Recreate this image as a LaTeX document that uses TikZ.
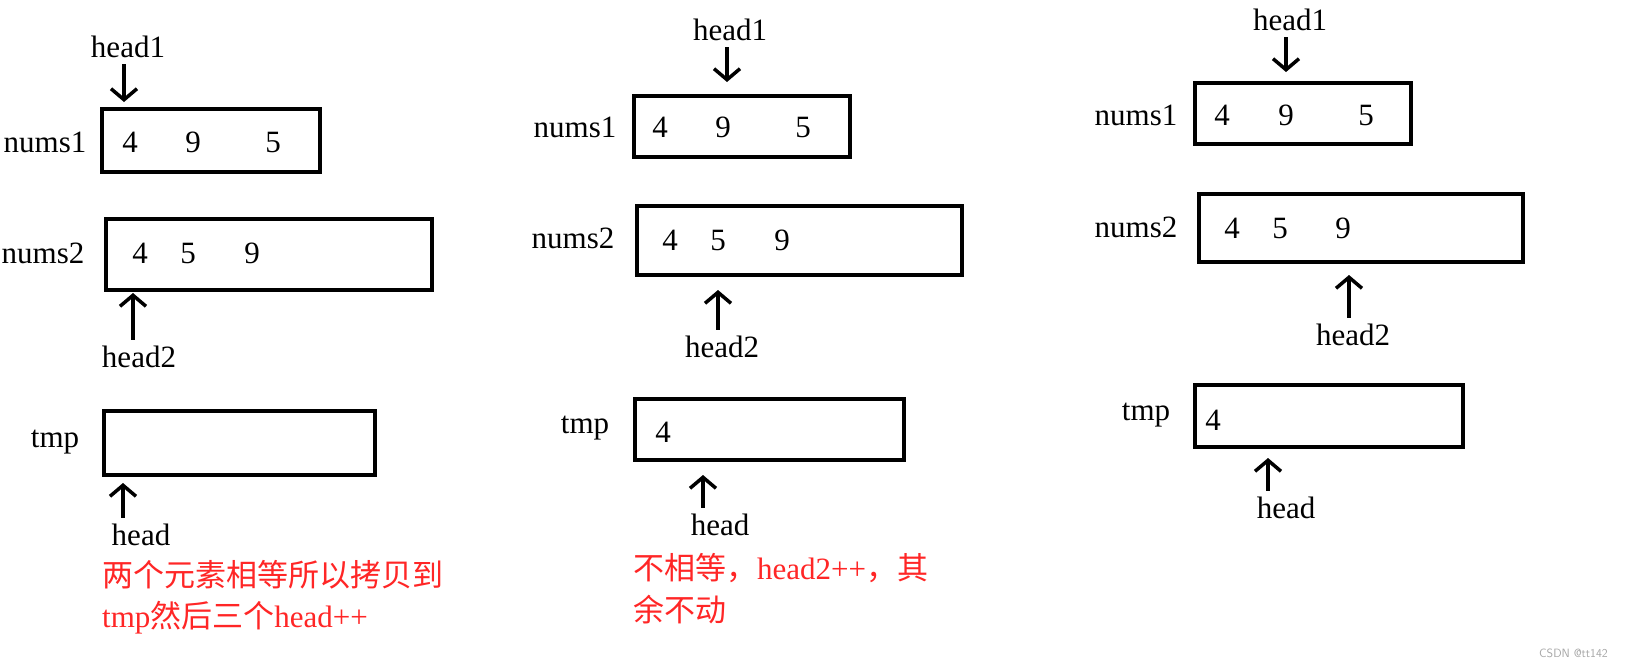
\documentclass[tikz,border=0pt]{standalone}
\usepackage{fontspec}
\usepackage{xcolor}
\usepackage{tikz}
\usetikzlibrary{arrows.meta}
\setmainfont{Liberation Serif}
\newfontfamily\cjk{Noto Sans CJK SC}
\newcommand\lblfont{\fontsize{31}{36}\selectfont}
\newcommand\notefont{\fontsize{31}{36}\selectfont}

\begin{document}
\begin{tikzpicture}[x=1pt, y=-1pt,
        every node/.append style={inner sep=0pt, font=\lblfont},
        cell/.style 2 args={draw=black, line width=4pt, minimum width=#1, minimum height=#2},
        ptr/.style={draw=black, line width=3.5pt, -{Straight Barb[length=11pt, width=26pt]}, shorten <=6pt},
        note/.style={anchor=west, text=red!85!white, font=\notefont}]
        \path[fill=white, use as bounding box] (0,0) rectangle (1629,667);
        % first step
        \node[cell={218pt}{63pt}] (a1) at (211,140.5) {};
        \node (a1l) at (45,142) {nums1};
        \foreach \v/\x [count=\k] in {4/130,9/193,5/273} \node (a1d\k) at (\x,142) {\v};
        \node[cell={326pt}{71pt}] (a2) at (269,254.5) {};
        \node (a2l) at (43,253) {nums2};
        \foreach \v/\x [count=\k] in {4/140,5/188,9/252} \node (a2d\k) at (\x,253) {\v};
        \node[cell={271pt}{64pt}] (a3) at (239.5,443) {};
        \node (a3l) at (55,442) {tmp};
        \node (a1h) at (128,47) {head1};
        \coordinate (a1p) at (124,102);
        \draw[ptr] (a1h.south -| a1p) -- (a1p);
        \node (a2h) at (139,357) {head2};
        \coordinate (a2p) at (133,293);
        \draw[ptr] (a2h.north -| a2p) -- (a2p);
        \node (a3h) at (141,535) {head};
        \coordinate (a3p) at (123,483);
        \draw[ptr] (a3h.north -| a3p) -- (a3p);
        \node[note] (a4) at (102,575) {\cjk 两个元素相等所以拷贝到};
        \node[note] (a5) at (102,618) {tmp{\cjk 然后三个}head++};
        % second step
        \node[cell={216pt}{61pt}] (b1) at (742,126.5) {};
        \node (b1l) at (575,127) {nums1};
        \foreach \v/\x [count=\k] in {4/660,9/723,5/803} \node (b1d\k) at (\x,127) {\v};
        \node[cell={325pt}{69pt}] (b2) at (799.5,240.5) {};
        \node (b2l) at (573,238) {nums2};
        \foreach \v/\x [count=\k] in {4/670,5/718,9/782} \node (b2d\k) at (\x,240) {\v};
        \node[cell={269pt}{61pt}] (b3) at (769.5,429.5) {};
        \node (b3l) at (585,428) {tmp};
        \node (b3d1) at (663,432) {4};
        \node (b1h) at (730,30) {head1};
        \coordinate (b1p) at (727,82);
        \draw[ptr] (b1h.south -| b1p) -- (b1p);
        \node (b2h) at (722,347) {head2};
        \coordinate (b2p) at (718,290);
        \draw[ptr] (b2h.north -| b2p) -- (b2p);
        \node (b3h) at (720,525) {head};
        \coordinate (b3p) at (703,475);
        \draw[ptr] (b3h.north -| b3p) -- (b3p);
        \node[note] (b4) at (633,568) {{\cjk 不相等，}head2++{\cjk ，其}};
        \node[note] (b5) at (633,610) {\cjk 余不动};
        % third step
        \node[cell={216pt}{61pt}] (c1) at (1303,113.5) {};
        \node (c1l) at (1136,115) {nums1};
        \foreach \v/\x [count=\k] in {4/1222,9/1286,5/1366} \node (c1d\k) at (\x,115) {\v};
        \node[cell={324pt}{68pt}] (c2) at (1361,228) {};
        \node (c2l) at (1136,227) {nums2};
        \foreach \v/\x [count=\k] in {4/1232,5/1280,9/1343} \node (c2d\k) at (\x,228) {\v};
        \node[cell={268pt}{62pt}] (c3) at (1329,416) {};
        \node (c3l) at (1146,415) {tmp};
        \node (c3d1) at (1213,420) {4};
        \node (c1h) at (1290,20) {head1};
        \coordinate (c1p) at (1286,72);
        \draw[ptr] (c1h.south -| c1p) -- (c1p);
        \node (c2h) at (1353,335) {head2};
        \coordinate (c2p) at (1349,275);
        \draw[ptr] (c2h.north -| c2p) -- (c2p);
        \node (c3h) at (1286,508) {head};
        \coordinate (c3p) at (1268,458);
        \draw[ptr] (c3h.north -| c3p) -- (c3p);
        \node[anchor=east, text=gray!70, font=\sffamily\fontsize{12}{14}\selectfont] (wm) at (1608,653) {CSDN @tt142};
\end{tikzpicture}
\end{document}
